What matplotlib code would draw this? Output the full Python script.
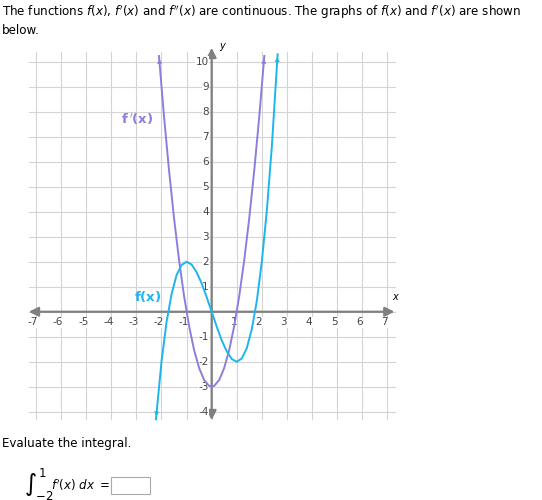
import matplotlib
matplotlib.use("Agg")
import matplotlib.pyplot as plt
from matplotlib.patches import Rectangle

# values
f_x = [-2.22, -2.0, -1.8, -1.6, -1.4, -1.2, -1.0, -0.8, -0.6, -0.4, -0.2, 0.0,
       0.2, 0.4, 0.6, 0.8, 1.0, 1.2, 1.4, 1.6, 1.8, 2.0, 2.2, 2.4, 2.63]
f_y = [-4.3, -2.0, -0.43, 0.70, 1.46, 1.87, 2.0, 1.89, 1.58, 1.14, 0.59, 0.0,
       -0.59, -1.14, -1.58, -1.89, -2.0, -1.87, -1.46, -0.70, 0.43, 2.0, 4.05, 6.62, 10.3]
fp_x = [-2.1, -1.9, -1.7, -1.5, -1.3, -1.1, -0.9, -0.7, -0.5, -0.3, -0.1, 0.1,
        0.3, 0.5, 0.7, 0.9, 1.1, 1.3, 1.5, 1.7, 1.9, 2.1]
fp_y = [10.23, 7.83, 5.67, 3.75, 2.07, 0.63, -0.57, -1.53, -2.25, -2.73, -2.97, -2.97,
        -2.73, -2.25, -1.53, -0.57, 0.63, 2.07, 3.75, 5.67, 7.83, 10.23]
x_ticks = [-7, -6, -5, -4, -3, -2, -1, 1, 2, 3, 4, 5, 6, 7]
y_ticks = [-4, -3, -2, -1, 1, 2, 3, 4, 5, 6, 7, 8, 9, 10]

PURPLE = "#8c7fdc"
CYAN = "#1cb5ec"
GREY = "#808080"

fig = plt.figure(figsize=(5.42, 5.0), dpi=100)
fig.text(0.004, 0.993, "The functions $f(x)$, $f'(x)$ and $f''(x)$ are continuous. The graphs of $f(x)$ and $f'(x)$ are shown\nbelow.",
         fontsize=8.6, va="top", ha="left", linespacing=1.3)
fig.text(0.004, 0.112, "Evaluate the integral.", fontsize=8.6, va="center")
fig.text(0.045, 0.03, r"$\int_{-2}^{1}$", fontsize=12, va="center")
fig.text(0.095, 0.03, r"$f'(x)\ dx\ =$", fontsize=8.6, va="center")
fig.patches.append(Rectangle((0.205, 0.013), 0.072, 0.034, transform=fig.transFigure,
                             fill=False, edgecolor="#aaaaaa", lw=0.8))

ax = fig.add_axes([0.048, 0.154, 0.685, 0.756])
ax.set_xlim(-7.4, 7.4)
ax.set_ylim(-4.45, 10.67)
for s in ax.spines.values():
    s.set_visible(False)
ax.set_xticks([])
ax.set_yticks([])

for gx in range(-7, 8):
    ax.plot([gx, gx], [-4.3, 10.4], color="#d4d4d4", lw=0.8, zorder=0)
for gy in range(-4, 11):
    ax.plot([-7.3, 7.3], [gy, gy], color="#d4d4d4", lw=0.8, zorder=0)

ap = dict(arrowstyle="<|-|>", color=GREY, lw=1.6, mutation_scale=14)
ax.annotate("", xy=(7.4, 0), xytext=(-7.4, 0), arrowprops=ap, zorder=1)
ax.annotate("", xy=(0, 10.67), xytext=(0, -4.45), arrowprops=ap, zorder=1)

for t in x_ticks:
    ax.text(t - 0.12, -0.42, str(t), fontsize=7.5, ha="center", va="center", color="#444444",
            bbox=dict(facecolor="white", edgecolor="none", pad=0.3), zorder=2)
for t in y_ticks:
    ax.text(-0.12, t, str(t), fontsize=7.5, ha="right", va="center", color="#444444",
            bbox=dict(facecolor="white", edgecolor="none", pad=0.3), zorder=2)
ax.text(7.2, 0.45, "x", fontsize=7, style="italic")
ax.text(0.3, 10.5, "y", fontsize=7, style="italic")

ax.plot(fp_x, fp_y, color=PURPLE, lw=1.4, zorder=3)
ax.plot(f_x, f_y, color=CYAN, lw=1.4, zorder=4)
for xs, ys, c in [(fp_x, fp_y, PURPLE), (f_x, f_y, CYAN)]:
    ax.annotate("", xy=(xs[0], ys[0]), xytext=(xs[1], ys[1]),
                arrowprops=dict(arrowstyle="-|>", color=c, lw=0, mutation_scale=9), zorder=4)
    ax.annotate("", xy=(xs[-1], ys[-1]), xytext=(xs[-2], ys[-2]),
                arrowprops=dict(arrowstyle="-|>", color=c, lw=0, mutation_scale=9), zorder=4)

ax.text(-3.6, 7.5, r"$\mathbf{f\,'(x)}$", color=PURPLE, fontsize=9.5)
ax.text(-3.1, 0.45, r"$\mathbf{f(x)}$", color=CYAN, fontsize=9.5)

fig.savefig("out.png", dpi=100)
